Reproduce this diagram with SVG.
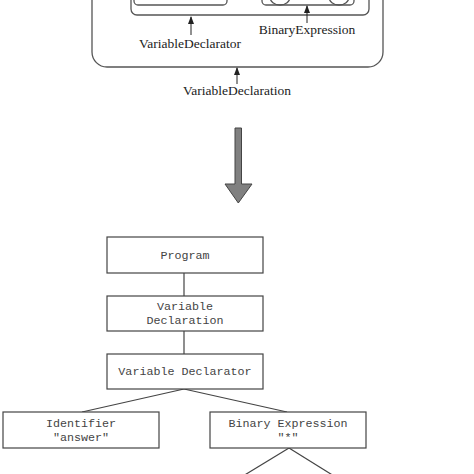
<svg xmlns="http://www.w3.org/2000/svg" width="474" height="474" viewBox="0 0 474 474">
<style>
.frame{fill:none;stroke:#555;stroke-width:1.3}
.lbl{font-family:"Liberation Serif","DejaVu Serif",serif;font-size:13.5px;fill:#222;text-anchor:middle}
.box{fill:#fff;stroke:#444;stroke-width:1.2}
.mono{font-family:"Liberation Mono","DejaVu Sans Mono",monospace;font-size:11.7px;fill:#444;text-anchor:middle}
.edge{stroke:#444;stroke-width:1.2;fill:none}
.ptr{stroke:#222;stroke-width:1;fill:none;marker-end:url(#ah)}
</style>
<defs>
<marker id="ah" viewBox="0 0 8 8" refX="7" refY="4" markerWidth="8" markerHeight="8" markerUnits="userSpaceOnUse" orient="auto">
<path d="M0,1 L8,4 L0,7 z" fill="#222"/>
</marker>
</defs>
<rect width="474" height="474" fill="#fff"/>
<g id="source-code">
<rect class="frame" x="92" y="-40" width="291" height="107" rx="15"/>
<rect class="frame" x="131" y="-30" width="238" height="45" rx="6"/>
<rect class="frame" x="134" y="-25" width="93" height="30" rx="4"/>
<rect class="frame" x="262" y="-25" width="92" height="30" rx="4"/>
<ellipse class="frame" cx="280" cy="-3" rx="10" ry="8"/>
<ellipse class="frame" cx="339" cy="-3" rx="10" ry="8"/>
</g>
<g id="labels">
<path class="ptr" d="M191,35 L191,17"/>
<text class="lbl" x="190" y="48">VariableDeclarator</text>
<path class="ptr" d="M307,23 L307,6"/>
<text class="lbl" x="307" y="34">BinaryExpression</text>
<path class="ptr" d="M237,84 L237,68"/>
<text class="lbl" x="237" y="95">VariableDeclaration</text>
</g>
<g id="transform-arrow">
<path d="M235,128 L241.5,128 L241.5,184 L252,184 L238.3,203 L225,184 L235,184 z" fill="#808080" stroke="#444" stroke-width="1"/>
</g>
<g id="connectors">
<path class="edge" d="M184,273 L184,296"/>
<path class="edge" d="M184,331 L184,354"/>
<path class="edge" d="M184,389 L82,412"/>
<path class="edge" d="M184,389 L287,412"/>
<path class="edge" d="M289,448 L243,476"/>
<path class="edge" d="M289,448 L334,476"/>
</g>
<g id="program">
<rect class="box" x="107" y="237" width="156" height="36"/>
<text class="mono" x="185" y="259">Program</text>
</g>
<g id="variable-declaration">
<rect class="box" x="107" y="296" width="156" height="35"/>
<text class="mono" x="185" y="310">Variable</text>
<text class="mono" x="185" y="324">Declaration</text>
</g>
<g id="variable-declarator">
<rect class="box" x="107" y="354" width="156" height="35"/>
<text class="mono" x="185" y="375">Variable Declarator</text>
</g>
<g id="identifier">
<rect class="box" x="3" y="412" width="156" height="36"/>
<text class="mono" x="81" y="427">Identifier</text>
<text class="mono" x="81" y="441">"answer"</text>
</g>
<g id="binary-expression">
<rect class="box" x="210" y="412" width="156" height="36"/>
<text class="mono" x="288" y="427">Binary Expression</text>
<text class="mono" x="288" y="441">"*"</text>
</g>
</svg>
